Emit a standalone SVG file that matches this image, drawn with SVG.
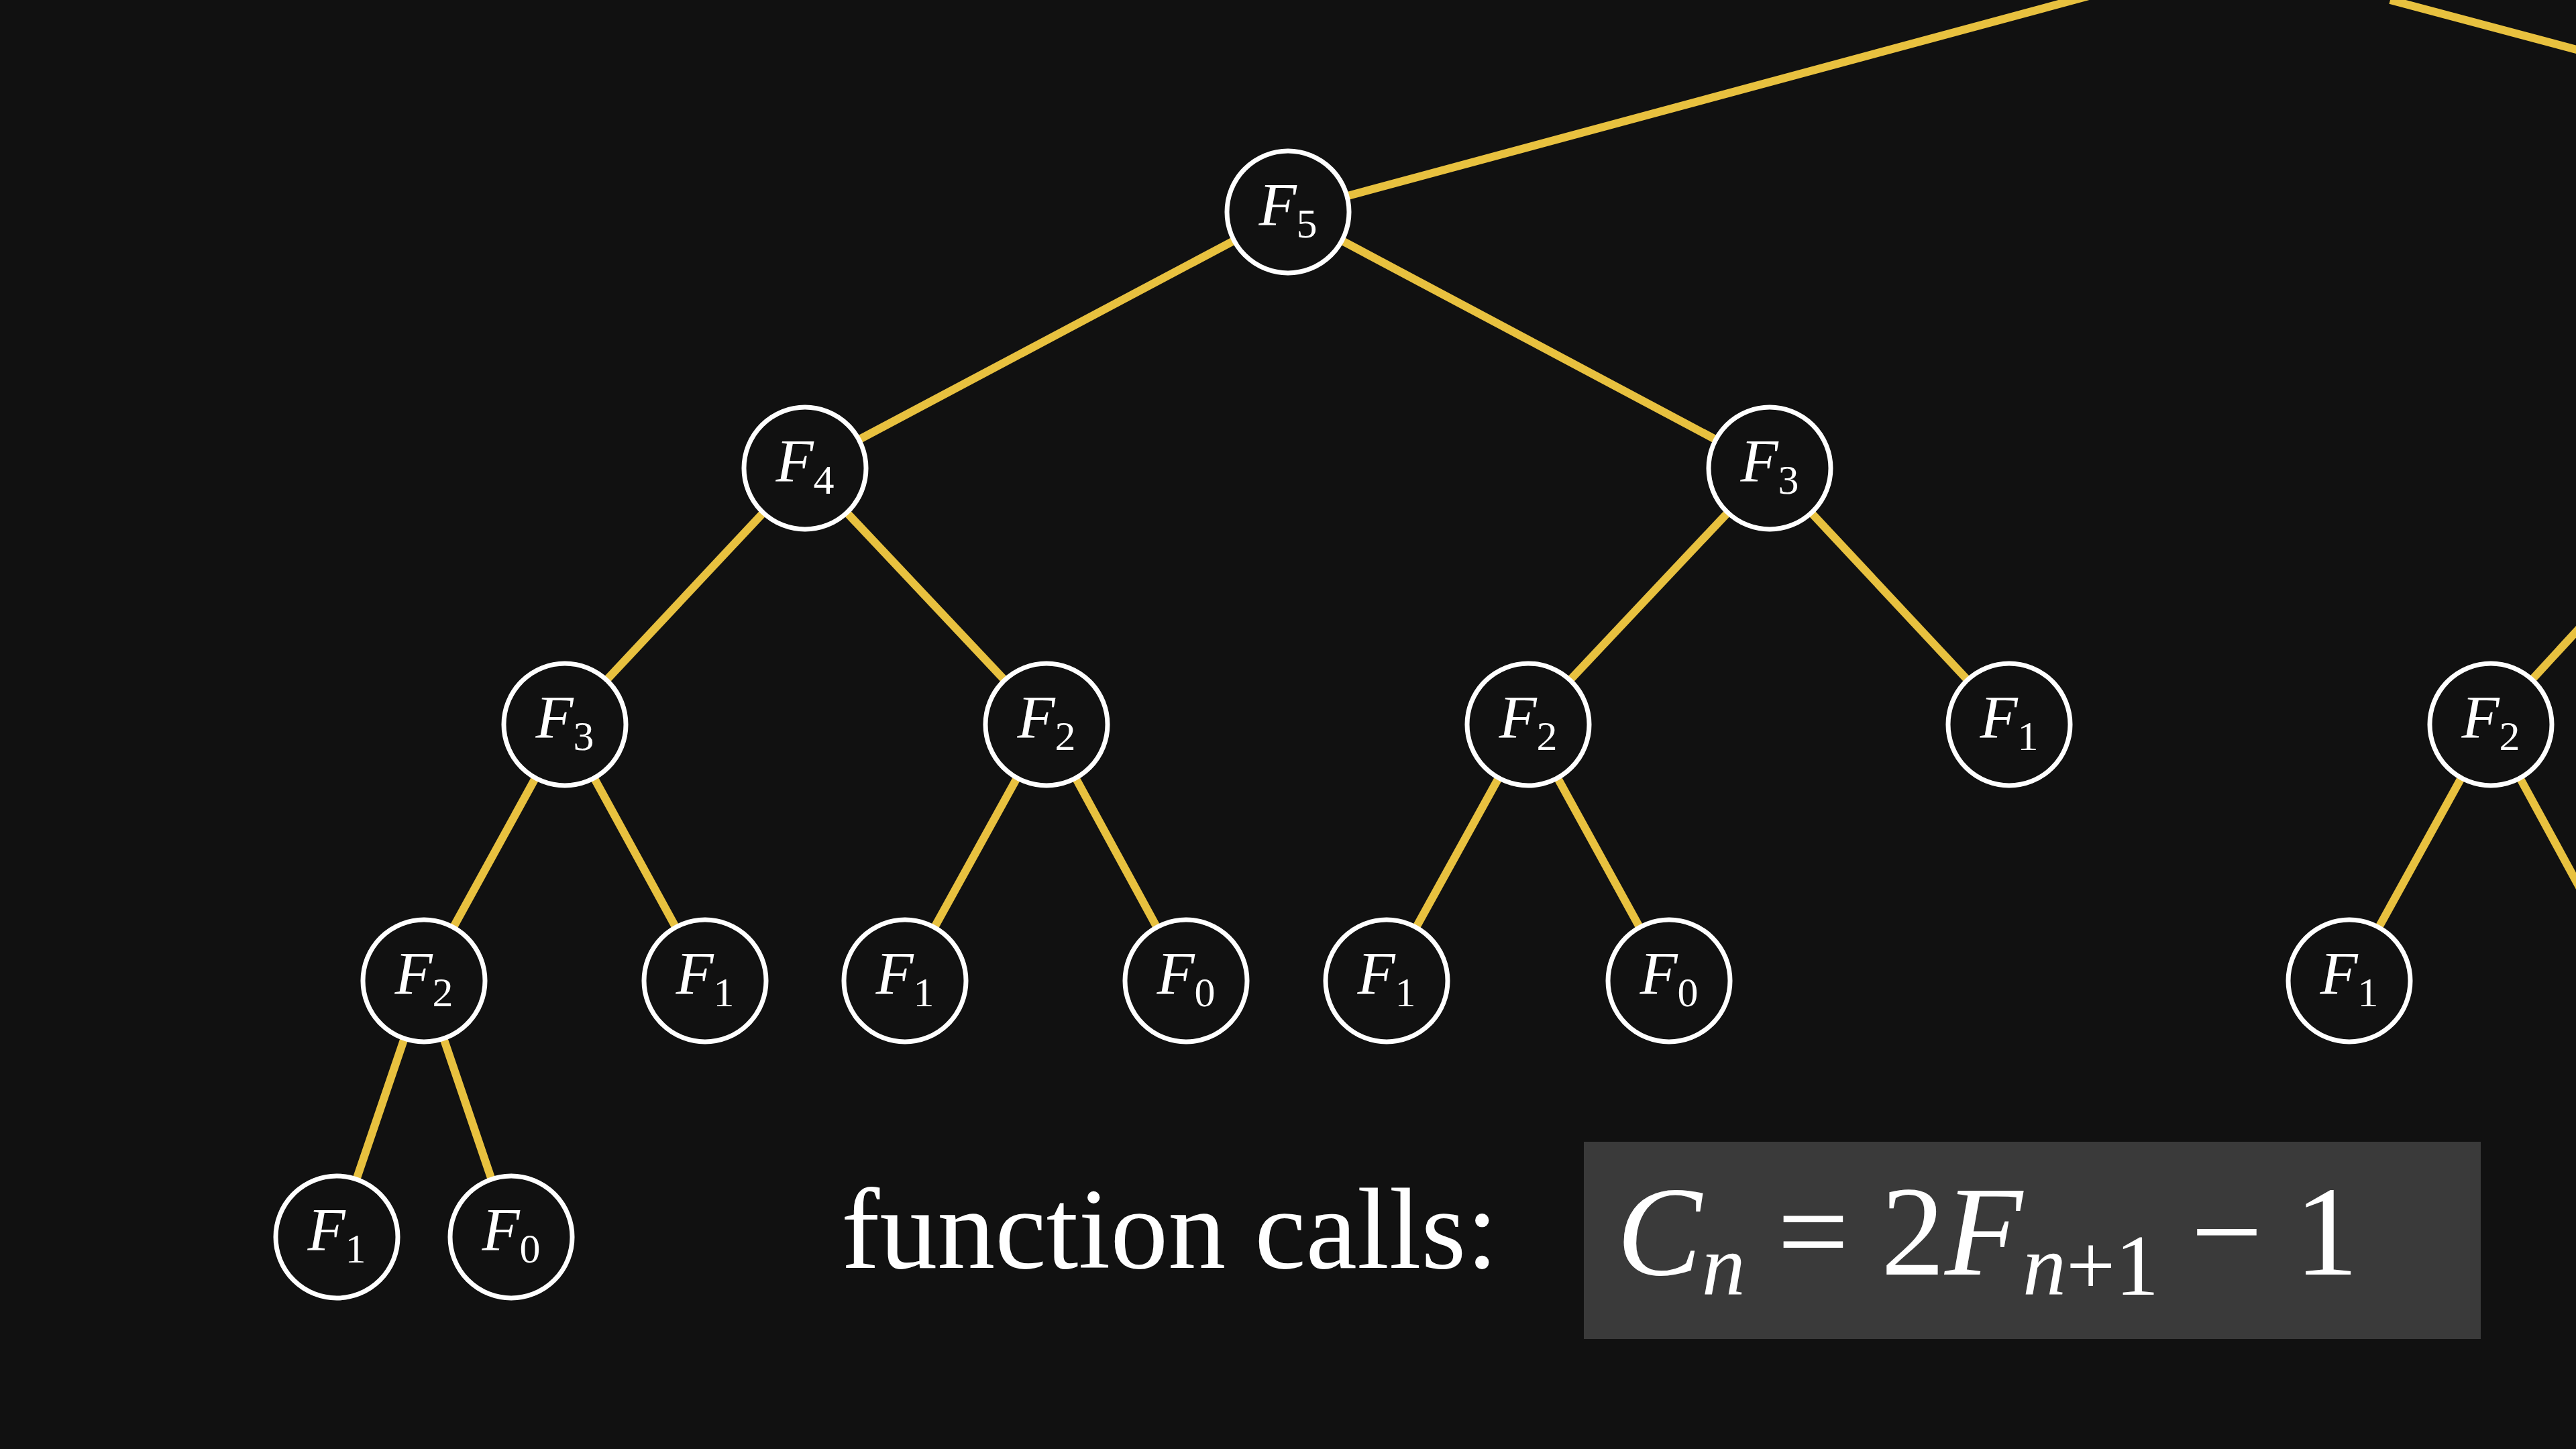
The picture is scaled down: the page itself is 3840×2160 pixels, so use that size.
<svg xmlns="http://www.w3.org/2000/svg" width="3840" height="2160" viewBox="0 0 3840 2160">
<style>
.e{stroke:#e8c13f;stroke-width:12;fill:none}
.n circle{fill:#111;stroke:#fff;stroke-width:7}
.n text{fill:#fff;font-family:"Liberation Serif",serif;font-size:92px;font-style:italic;text-anchor:middle}
.n tspan{font-style:normal;font-size:62px}
.t{fill:#fff;font-family:"Liberation Serif",serif}
</style>
<rect width="3840" height="2160" fill="#111"/>
<g id="connectors">
<line class="e" x1="1920" y1="316" x2="3147" y2="-15"/>
<line class="e" x1="3563" y1="0" x2="3860" y2="79"/>
<line class="e" x1="1920" y1="316" x2="1200" y2="698"/>
<line class="e" x1="1920" y1="316" x2="2638" y2="698"/>
<line class="e" x1="1200" y1="698" x2="842" y2="1080"/>
<line class="e" x1="1200" y1="698" x2="1560" y2="1080"/>
<line class="e" x1="2638" y1="698" x2="2278" y2="1080"/>
<line class="e" x1="2638" y1="698" x2="2995" y2="1080"/>
<line class="e" x1="842" y1="1080" x2="632" y2="1462"/>
<line class="e" x1="842" y1="1080" x2="1051" y2="1462"/>
<line class="e" x1="1560" y1="1080" x2="1349" y2="1462"/>
<line class="e" x1="1560" y1="1080" x2="1768" y2="1462"/>
<line class="e" x1="2278" y1="1080" x2="2067" y2="1462"/>
<line class="e" x1="2278" y1="1080" x2="2488" y2="1462"/>
<line class="e" x1="3713" y1="1080" x2="3502" y2="1462"/>
<line class="e" x1="3713" y1="1080" x2="3860" y2="920"/>
<line class="e" x1="3713" y1="1080" x2="3860" y2="1350"/>
<line class="e" x1="632" y1="1462" x2="502" y2="1844"/>
<line class="e" x1="632" y1="1462" x2="762" y2="1844"/>
</g>
<g id="n1" class="n"><circle cx="1920" cy="316" r="91"/><text x="1920" y="336">F<tspan dy="18">5</tspan></text></g>
<g id="n2" class="n"><circle cx="1200" cy="698" r="91"/><text x="1200" y="718">F<tspan dy="18">4</tspan></text></g>
<g id="n3" class="n"><circle cx="2638" cy="698" r="91"/><text x="2638" y="718">F<tspan dy="18">3</tspan></text></g>
<g id="n4" class="n"><circle cx="842" cy="1080" r="91"/><text x="842" y="1100">F<tspan dy="18">3</tspan></text></g>
<g id="n5" class="n"><circle cx="1560" cy="1080" r="91"/><text x="1560" y="1100">F<tspan dy="18">2</tspan></text></g>
<g id="n6" class="n"><circle cx="2278" cy="1080" r="91"/><text x="2278" y="1100">F<tspan dy="18">2</tspan></text></g>
<g id="n7" class="n"><circle cx="2995" cy="1080" r="91"/><text x="2995" y="1100">F<tspan dy="18">1</tspan></text></g>
<g id="n8" class="n"><circle cx="3713" cy="1080" r="91"/><text x="3713" y="1100">F<tspan dy="18">2</tspan></text></g>
<g id="n9" class="n"><circle cx="632" cy="1462" r="91"/><text x="632" y="1482">F<tspan dy="18">2</tspan></text></g>
<g id="n10" class="n"><circle cx="1051" cy="1462" r="91"/><text x="1051" y="1482">F<tspan dy="18">1</tspan></text></g>
<g id="n11" class="n"><circle cx="1349" cy="1462" r="91"/><text x="1349" y="1482">F<tspan dy="18">1</tspan></text></g>
<g id="n12" class="n"><circle cx="1768" cy="1462" r="91"/><text x="1768" y="1482">F<tspan dy="18">0</tspan></text></g>
<g id="n13" class="n"><circle cx="2067" cy="1462" r="91"/><text x="2067" y="1482">F<tspan dy="18">1</tspan></text></g>
<g id="n14" class="n"><circle cx="2488" cy="1462" r="91"/><text x="2488" y="1482">F<tspan dy="18">0</tspan></text></g>
<g id="n15" class="n"><circle cx="3502" cy="1462" r="91"/><text x="3502" y="1482">F<tspan dy="18">1</tspan></text></g>
<g id="n16" class="n"><circle cx="502" cy="1844" r="91"/><text x="502" y="1864">F<tspan dy="18">1</tspan></text></g>
<g id="n17" class="n"><circle cx="762" cy="1844" r="91"/><text x="762" y="1864">F<tspan dy="18">0</tspan></text></g>
<g id="caption">
<text class="t" x="1254" y="1890" font-size="172">function calls:</text>
<rect x="2361" y="1702" width="1337" height="294" fill="#3a3a3a"/>
<text class="t" x="2410" y="1900" font-size="190"><tspan font-style="italic">C</tspan><tspan font-style="italic" font-size="130" dy="30">n</tspan><tspan dy="-30"> = 2</tspan><tspan font-style="italic">F</tspan><tspan font-size="130" dy="30"><tspan font-style="italic">n</tspan>+1</tspan><tspan dy="-30"> − 1</tspan></text>
</g>
</svg>
